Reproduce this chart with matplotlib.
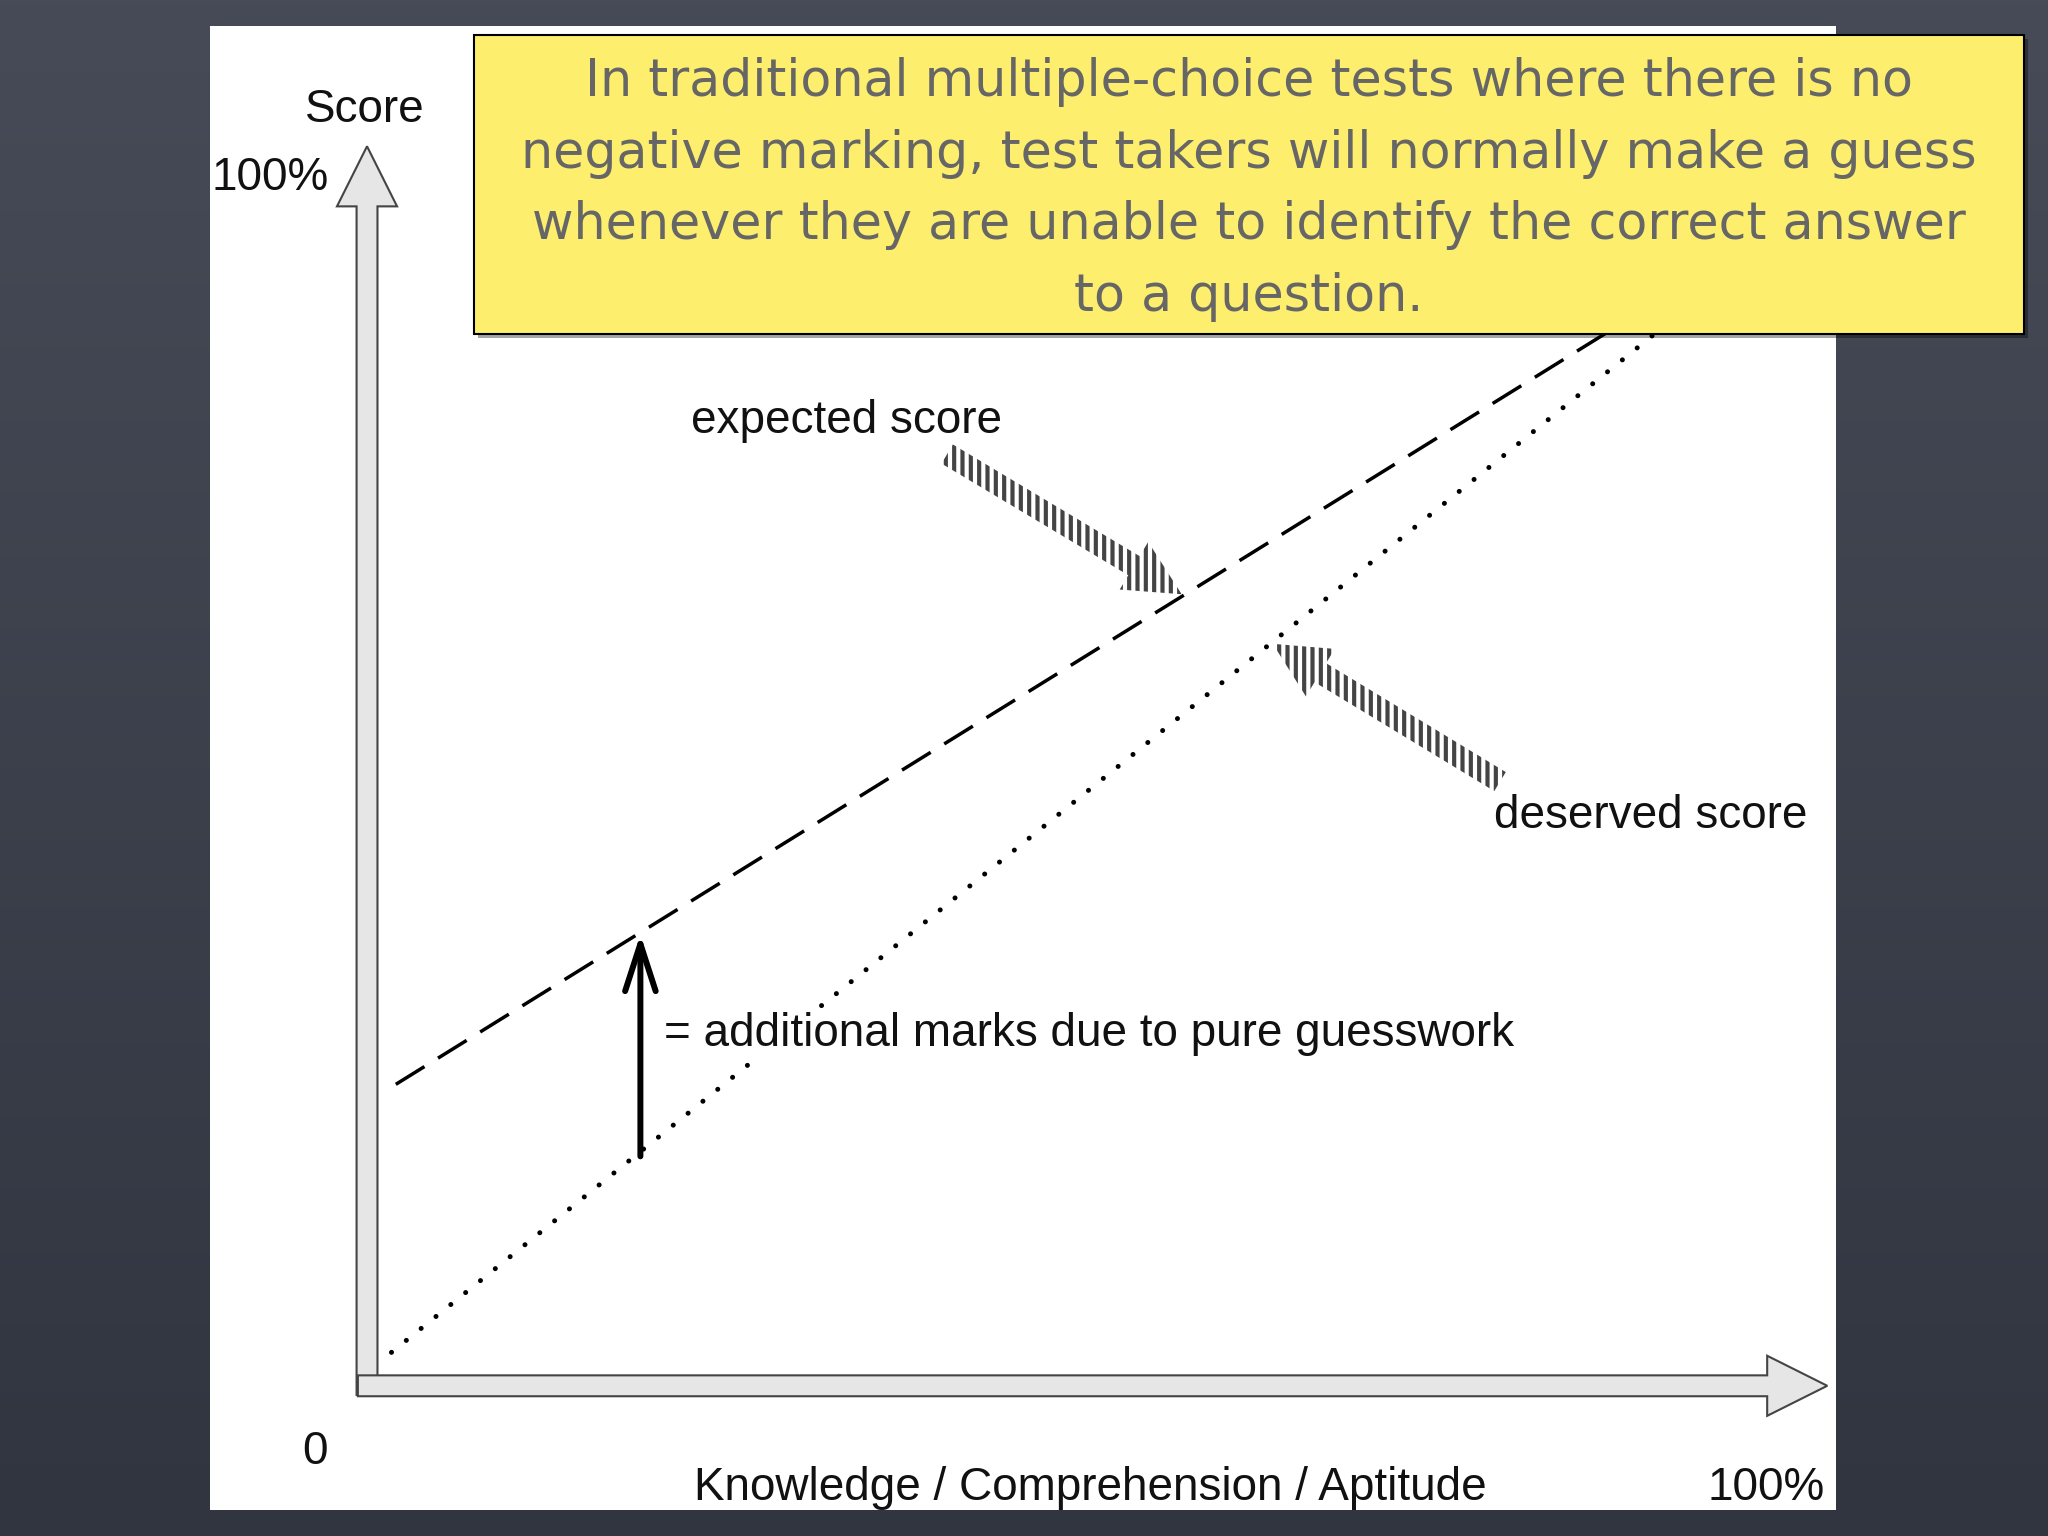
import matplotlib
matplotlib.use("Agg")
import matplotlib.pyplot as plt
import numpy as np
from matplotlib.patches import Rectangle, FancyArrow

plt.rcParams['hatch.linewidth'] = 3.0

# data (percent of knowledge / percent of score)
knowledge_dashed = [1.9, 99.0]
expected_score = [24.4, 94.7]
knowledge_dotted = [1.6, 99.0]
deserved_score = [2.8, 94.4]

guess_x = 18.8
guess_low = 18.6
guess_high = 36.5

# pointers: (tip x, tip y, tail x, tail y)
expected_ptr = (56.2, 63.9, 40.0, 75.2)
deserved_ptr = (62.5, 59.9, 78.2, 48.8)

note = ("In traditional multiple-choice tests where there is no\n"
        "negative marking, test takers will normally make a guess\n"
        "whenever they are unable to identify the correct answer\n"
        "to a question.")

W, H = 1568, 1176
fig = plt.figure(figsize=(20.48, 15.36), dpi=100)

# background layer in slide pixels
bg = fig.add_axes([0, 0, 1, 1], zorder=0)
bg.set_xlim(0, W)
bg.set_ylim(H, 0)
bg.axis('off')
grad = np.linspace(0, 1, 256).reshape(-1, 1)
top_c = np.array([0x47, 0x4b, 0x57]) / 255
bot_c = np.array([0x31, 0x35, 0x40]) / 255
img = top_c + (bot_c - top_c) * grad[..., None]
bg.imshow(img, extent=[0, W, H, 0], aspect='auto', zorder=0)
bg.add_patch(Rectangle((161, 20), 1245, 1136, fc='white', ec='none', zorder=1))

# hollow axis arrows
bg.add_patch(FancyArrow(281, 1068, 0, 112 - 1068, width=16, head_width=46, head_length=46,
                        length_includes_head=True, fc='#e6e6e6', ec='#444444', lw=1.5, zorder=2))
bg.add_patch(FancyArrow(274, 1061, 1399 - 274, 0, width=16, head_width=46, head_length=46,
                        length_includes_head=True, fc='#e6e6e6', ec='#444444', lw=1.5, zorder=2))

# chart axes in data units
ax = fig.add_axes([282 / W, (H - 1062) / H, 1108 / W, 950 / H], zorder=2)
ax.set_xlim(0, 100)
ax.set_ylim(0, 100)
ax.axis('off')
ax.patch.set_visible(False)

ax.plot(knowledge_dashed, expected_score, color='black', lw=2.5, dashes=(9.7, 4.6))
ax.plot(knowledge_dotted, deserved_score, color='black', lw=3.6, dashes=(0.01, 3.8),
        dash_capstyle='round')

ax.annotate('', xy=(guess_x, guess_high), xytext=(guess_x, guess_low),
            arrowprops=dict(arrowstyle='->,head_length=1.7,head_width=0.55', mutation_scale=20,
                            lw=4.3, color='black', shrinkA=0, shrinkB=0))

for tx, ty, sx, sy in [expected_ptr, deserved_ptr]:
    ax.annotate('', xy=(tx, ty), xytext=(sx, sy),
                arrowprops=dict(arrowstyle='simple,head_length=40,head_width=40,tail_width=16',
                                mutation_scale=1, fc='white', ec='#444444', lw=0,
                                hatch='||', shrinkA=0, shrinkB=0))

# overlay with labels and note box
top = fig.add_axes([0, 0, 1, 1], zorder=3)
top.set_xlim(0, W)
top.set_ylim(H, 0)
top.axis('off')
top.patch.set_visible(False)

lab = dict(family='Liberation Sans', fontsize=33, color='#111111')
top.text(279, 84, 'Score', ha='center', va='center', **lab)
top.text(207, 136, '100%', ha='center', va='center', **lab)
top.text(241, 1112, '0', ha='center', va='center', **lab)
top.text(835, 1139, 'Knowledge / Comprehension / Aptitude', ha='center', va='center', **lab)
top.text(1352, 1139, '100%', ha='center', va='center', **lab)
top.text(648, 322, 'expected score', ha='center', va='center', **lab)
top.text(1264, 625, 'deserved score', ha='center', va='center', **lab)
top.text(508, 792, '= additional marks due to pure guesswork', ha='left', va='center',
         bbox=dict(fc='white', ec='none', pad=2), **lab)

top.add_patch(Rectangle((366, 30), 1187, 229, fc='black', ec='none', alpha=0.35, zorder=4))
top.add_patch(Rectangle((363, 27), 1187, 229, fc='#fdee6e', ec='black', lw=1.5, zorder=5))
top.text(956, 145, note, ha='center', va='center', family='DejaVu Sans', fontsize=36.5,
         color='#666666', linespacing=1.55, zorder=6)

fig.savefig('out.png', dpi=100)
